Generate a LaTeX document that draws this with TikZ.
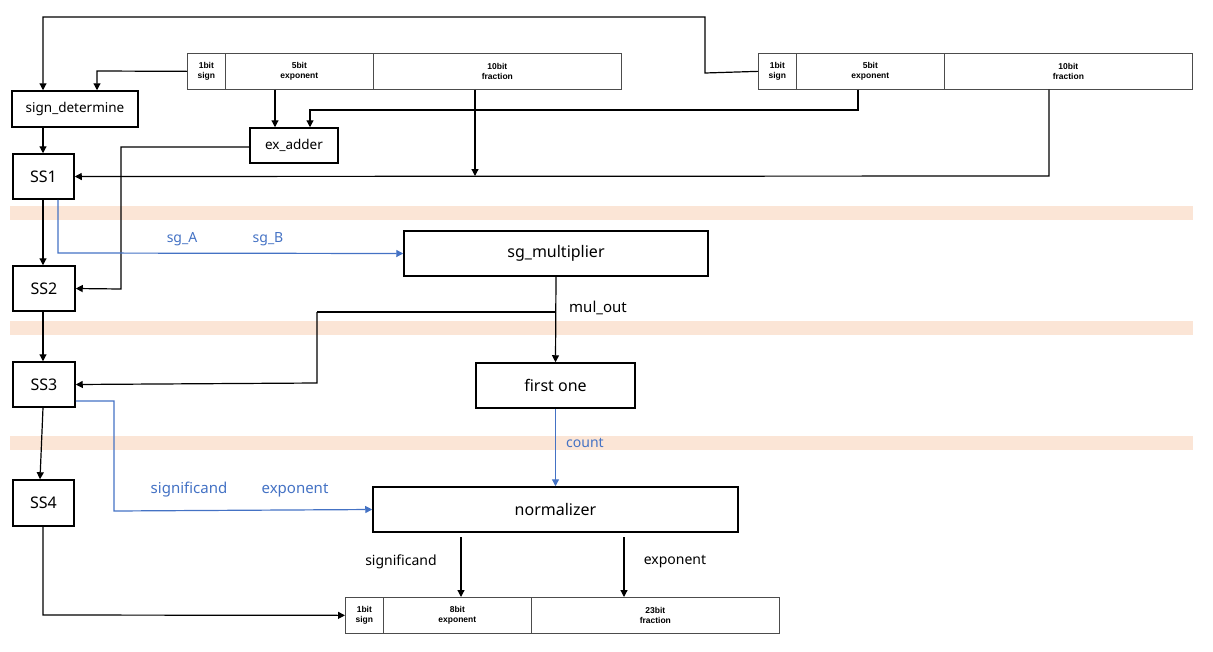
\documentclass[tikz,border=0pt]{standalone}
\usepackage{fontspec}
\setmainfont{Noto Sans}
\newfontfamily\regf{Liberation Sans}
\usetikzlibrary{arrows.meta}
\definecolor{bl}{HTML}{4472C4}
\definecolor{band}{HTML}{FBE5D6}
\begin{document}
\begin{tikzpicture}[x=1pt,y=-1pt,
  blk/.style={draw,line width=1.5pt,inner sep=0pt,font=\fontsize{13.5}{15}\selectfont},
  big/.style={font=\fontsize{16}{18}\selectfont},
  reg/.style={draw=black!70,line width=0.7pt,inner sep=0pt,font=\regf\fontsize{8.5}{10}\selectfont\bfseries,align=center},
  ar/.style={-{Triangle[length=7pt,width=7pt]},line width=1.2pt},
  ln/.style={line width=1.2pt},
  bar/.style={-{Triangle[length=7pt,width=7pt]},line width=1.2pt,draw=bl},
  lb/.style={font=\fontsize{14}{16}\selectfont},
  blb/.style={font=\fontsize{14}{16}\selectfont,text=bl}]
\useasboundingbox (0,0) rectangle (1213,651);
\foreach \y in {206,321,436}{\fill[band] (10,\y) rectangle (1193,\y+14);}
% registers
\node[reg,minimum width=38pt,minimum height=36pt,anchor=north west] (as) at (187,53) {1bit\\sign};
\node[reg,minimum width=148pt,minimum height=36pt,anchor=north west] (ae) at (225,53) {5bit\\exponent};
\node[reg,minimum width=248pt,minimum height=36pt,anchor=north west] (af) at (373,53) {10bit\\fraction};
\node[reg,minimum width=38pt,minimum height=36pt,anchor=north west] (bs) at (758,53) {1bit\\sign};
\node[reg,minimum width=148pt,minimum height=36pt,anchor=north west] (be) at (796,53) {5bit\\exponent};
\node[reg,minimum width=248pt,minimum height=36pt,anchor=north west] (bf) at (944,53) {10bit\\fraction};
\node[reg,minimum width=38pt,minimum height=36pt,anchor=north west] (os) at (345,597) {1bit\\sign};
\node[reg,minimum width=148pt,minimum height=36pt,anchor=north west] (oe) at (383,597) {8bit\\exponent};
\node[reg,minimum width=248pt,minimum height=36pt,anchor=north west] (of) at (531,597) {23bit\\fraction};
% blocks
\node[blk,minimum width=126pt,minimum height=36pt] (sd) at (75,109) {sign\_determine};
\node[blk,minimum width=88pt,minimum height=35pt] (ex) at (294,145.5) {ex\_adder};
\node[blk,big,minimum width=61pt,minimum height=45pt] (s1) at (43.5,176.5) {SS1};
\node[blk,big,minimum width=62pt,minimum height=45pt] (s2) at (44,288.5) {SS2};
\node[blk,big,minimum width=62pt,minimum height=45pt] (s3) at (44,384.5) {SS3};
\node[blk,big,minimum width=61pt,minimum height=46pt] (s4) at (43.5,503) {SS4};
\node[blk,big,minimum width=304pt,minimum height=45pt] (mul) at (556,253.5) {sg\_multiplier};
\node[blk,big,minimum width=159pt,minimum height=45pt] (fo) at (555.5,385.5) {first one};
\node[blk,big,minimum width=365pt,minimum height=45pt] (nm) at (555.5,509.5) {normalizer};
% connections
\draw[ar] (bs.west) -- (705,73) -- (705,17) -- (43,17) -- (sd.north -| 43,0);
\draw[ar] (as.west) -- (97,71) -- (sd.north -| 97,0);
\draw[ar] (ae.south -| 275,0) -- (ex.north -| 275,0);
\draw[ar] (be.south -| 858,0) -- (858,110) -- (310,110) -- (ex.north -| 310,0);
\draw[ar] (bf.south -| 1049,0) -- (1049,176) -- (s1.east);
\draw[ar] (af.south -| 475,0) -- (475,176);
\draw[ar] (sd.south -| 43,0) -- (s1.north -| 43,0);
\draw[ar] (ex.west |- 0,147) -- (121,147) -- (121,289) -- (s2.east);
\draw[ar] (s1.south -| 43,0) -- (s2.north -| 43,0);
\draw[ar] (s2.south -| 43,0) -- (s3.north -| 43,0);
\draw[ar] (s3.south -| 43,0) -- (s4.north -| 40,0);
\draw[bar] (s1.south -| 58,0) -- (58,253) -- (mul.west);
\node[blb] (la) at (182,239) {sg\_A};
\node[blb] (lb2) at (268,239) {sg\_B};
\draw[ar] (mul.south) -- (fo.north);
\draw[ln] (556,312) -- (317,312);
\draw[ar] (317,312) -- (317,383) -- (s3.east);
\node[lb,font=\fontsize{15}{17}\selectfont] (mo) at (598,308) {mul\_out};
\draw[bar] (fo.south) -- (nm.north);
\node[blb] (lc) at (585,443) {count};
\draw[bar] (s3.east |- 0,401) -- (114,401) -- (114,511) -- (nm.west);
\node[blb,font=\fontsize{15}{17}\selectfont] (ls) at (189,490) {significand};
\node[blb,font=\fontsize{15}{17}\selectfont] (le) at (295,490) {exponent};
\coordinate (n1) at (461,537);
\coordinate (n2) at (624,537);
\draw[ar] (n1) -- (n1 |- os.north);
\draw[ar] (n2) -- (n2 |- os.north);
\node[lb] (ls2) at (401,562) {significand};
\node[lb] (le2) at (675,562) {exponent};
\draw[ar] (s4.south -| 43,0) -- (43,615) -- (os.west);
\end{tikzpicture}
\end{document}
